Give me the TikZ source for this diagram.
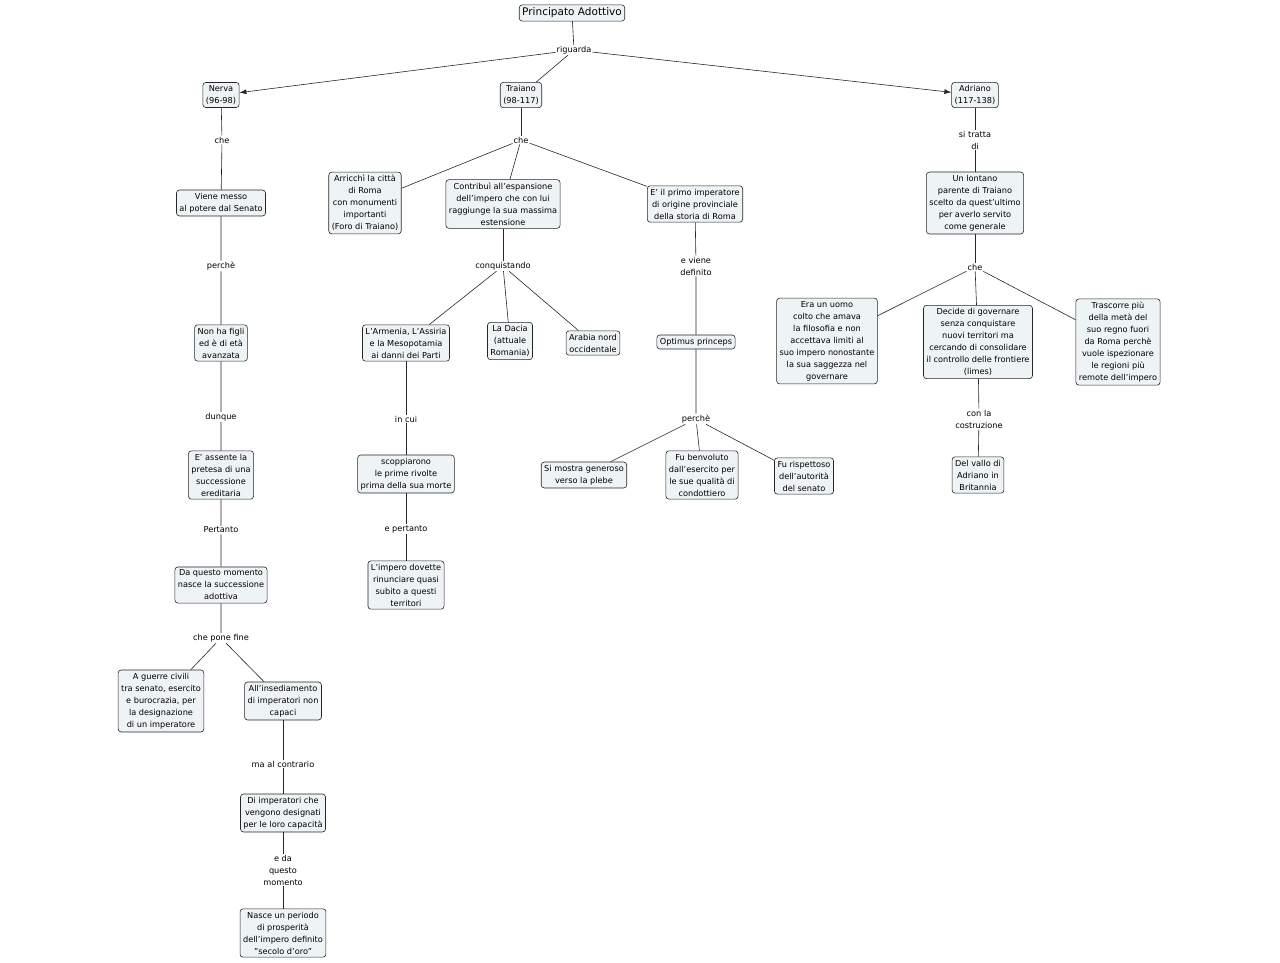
\documentclass[tikz,border=0pt]{standalone}
\usepackage{fontspec}
\setmainfont{DejaVu Sans}
\usetikzlibrary{arrows.meta}
\begin{document}
\begin{tikzpicture}[x=1pt,y=-1pt,
  box/.style={draw=black!85,fill={rgb,255:red,238;green,243;blue,245},rounded corners=3pt,align=center,
    font=\fontsize{8.2}{12}\selectfont,inner sep=3pt,line width=0.6pt},
  lab/.style={fill=white,align=center,font=\fontsize{8.2}{12}\selectfont,inner sep=1pt},
  ln/.style={draw=black!85,line width=0.6pt},
  ar/.style={ln,-{Latex[length=7pt,width=5pt]}}]
\useasboundingbox (0,0) rectangle (1280,963);
\node[box,font=\fontsize{10.5}{13}\selectfont] (t) at (572,13) {Principato Adottivo};
\node[lab] (rig) at (574,50) {riguarda};
\node[box] (ner) at (221,95) {Nerva\\(96-98)};
\node[box] (tra) at (521,95) {Traiano\\(98-117)};
\node[box] (adr) at (975,95) {Adriano\\(117-138)};
\draw[ln] (t)--(rig); \draw[ar] (rig)--(ner); \draw[ln] (rig)--(tra); \draw[ar] (rig)--(adr);
% Nerva
\node[lab] (c1) at (222,140) {che};
\node[box] (vm) at (221,203) {Viene messo\\al potere dal Senato};
\node[lab] (pe1) at (221,266) {perchè};
\node[box] (nf) at (221,343) {Non ha figli\\ed è di età\\avanzata};
\node[lab] (du) at (221,417) {dunque};
\node[box] (ea) at (221,475) {E' assente la\\pretesa di una\\successione\\ereditaria};
\node[lab] (pt) at (221,530) {Pertanto};
\node[box] (dq) at (221,585) {Da questo momento\\nasce la successione\\adottiva};
\node[lab] (cpf) at (221,638) {che pone fine};
\node[box] (ag) at (161,701) {A guerre civili\\tra senato, esercito\\e burocrazia, per\\la designazione\\di un imperatore};
\node[box] (ai) at (283,701) {All'insediamento\\di imperatori non\\capaci};
\node[lab] (mac) at (283,764) {ma al contrario};
\node[box] (di) at (283,813) {Di imperatori che\\vengono designati\\per le loro capacità};
\node[lab] (edq) at (283,870) {e da\\questo\\momento};
\node[box] (np) at (283,933) {Nasce un periodo\\di prosperità\\dell'impero definito\\"secolo d'oro"};
\draw[ln] (ner)--(c1)--(vm)--(pe1)--(nf)--(du)--(ea)--(pt)--(dq)--(cpf);
\draw[ln] (cpf)--(ag); \draw[ln] (cpf)--(ai);
\draw[ln] (ai)--(mac)--(di)--(edq)--(np);
% Traiano
\node[lab] (c2) at (521,140) {che};
\node[box] (arr) at (365,203) {Arricchì la città\\di Roma\\con monumenti\\importanti\\(Foro di Traiano)};
\node[box] (con) at (503,204) {Contribuì all'espansione\\dell'impero che con lui\\raggiunge la sua massima\\estensione};
\node[box] (ep) at (695,204) {E' il primo imperatore\\di origine provinciale\\della storia di Roma};
\draw[ln] (tra)--(c2); \draw[ln] (c2)--(arr); \draw[ln] (c2)--(con); \draw[ln] (c2)--(ep);
\node[lab] (cq) at (503,266) {conquistando};
\node[box] (arm) at (406,343) {L'Armenia, L'Assiria\\e la Mesopotamia\\ai danni dei Parti};
\node[box] (dac) at (510,341) {La Dacia\\(attuale\\Romania)};
\node[box] (ara) at (593,343) {Arabia nord\\occidentale};
\draw[ln] (con)--(cq); \draw[ln] (cq)--(arm); \draw[ln] (cq)--(dac); \draw[ln] (cq)--(ara);
\node[lab] (ic) at (406,419) {in cui};
\node[box] (sc) at (406,474) {scoppiarono\\le prime rivolte\\prima della sua morte};
\node[lab] (ept) at (406,529) {e pertanto};
\node[box] (id) at (406,585) {L'impero dovette\\rinunciare quasi\\subito a questi\\territori};
\draw[ln] (arm)--(ic)--(sc)--(ept)--(id);
\node[lab] (evd) at (696,266) {e viene\\definito};
\node[box] (op) at (696,342) {Optimus princeps};
\node[lab] (pe2) at (696,419) {perchè};
\node[box] (sm) at (584,475) {Si mostra generoso\\verso la plebe};
\node[box] (fb) at (702,475) {Fu benvoluto\\dall'esercito per\\le sue qualità di\\condottiero};
\node[box] (fr) at (804,476) {Fu rispettoso\\dell'autorità\\del senato};
\draw[ln] (ep)--(evd)--(op)--(pe2);
\draw[ln] (pe2)--(sm); \draw[ln] (pe2)--(fb); \draw[ln] (pe2)--(fr);
% Adriano
\node[lab] (st) at (975,140) {si tratta\\di};
\node[box] (ul) at (975,203) {Un lontano\\parente di Traiano\\scelto da quest'ultimo\\per averlo servito\\come generale};
\node[lab] (c3) at (975,267) {che};
\node[box] (eu) at (827,341) {Era un uomo\\colto che amava\\la filosofia e non\\accettava limiti al\\suo impero nonostante\\la sua saggezza nel\\governare};
\node[box] (dg) at (978,342) {Decide di governare\\senza conquistare\\nuovi territori ma\\cercando di consolidare\\il controllo delle frontiere\\(limes)};
\node[box] (tr) at (1118,342) {Trascorre più\\della metà del\\suo regno fuori\\da Roma perchè\\vuole ispezionare\\le regioni più\\remote dell'impero};
\draw[ln] (adr)--(st)--(ul)--(c3);
\draw[ln] (c3)--(eu); \draw[ln] (c3)--(dg); \draw[ln] (c3)--(tr);
\node[lab] (clc) at (979,419) {con la\\costruzione};
\node[box] (dv) at (978,475) {Del vallo di\\Adriano in\\Britannia};
\draw[ln] (dg)--(clc)--(dv);
\end{tikzpicture}
\end{document}
